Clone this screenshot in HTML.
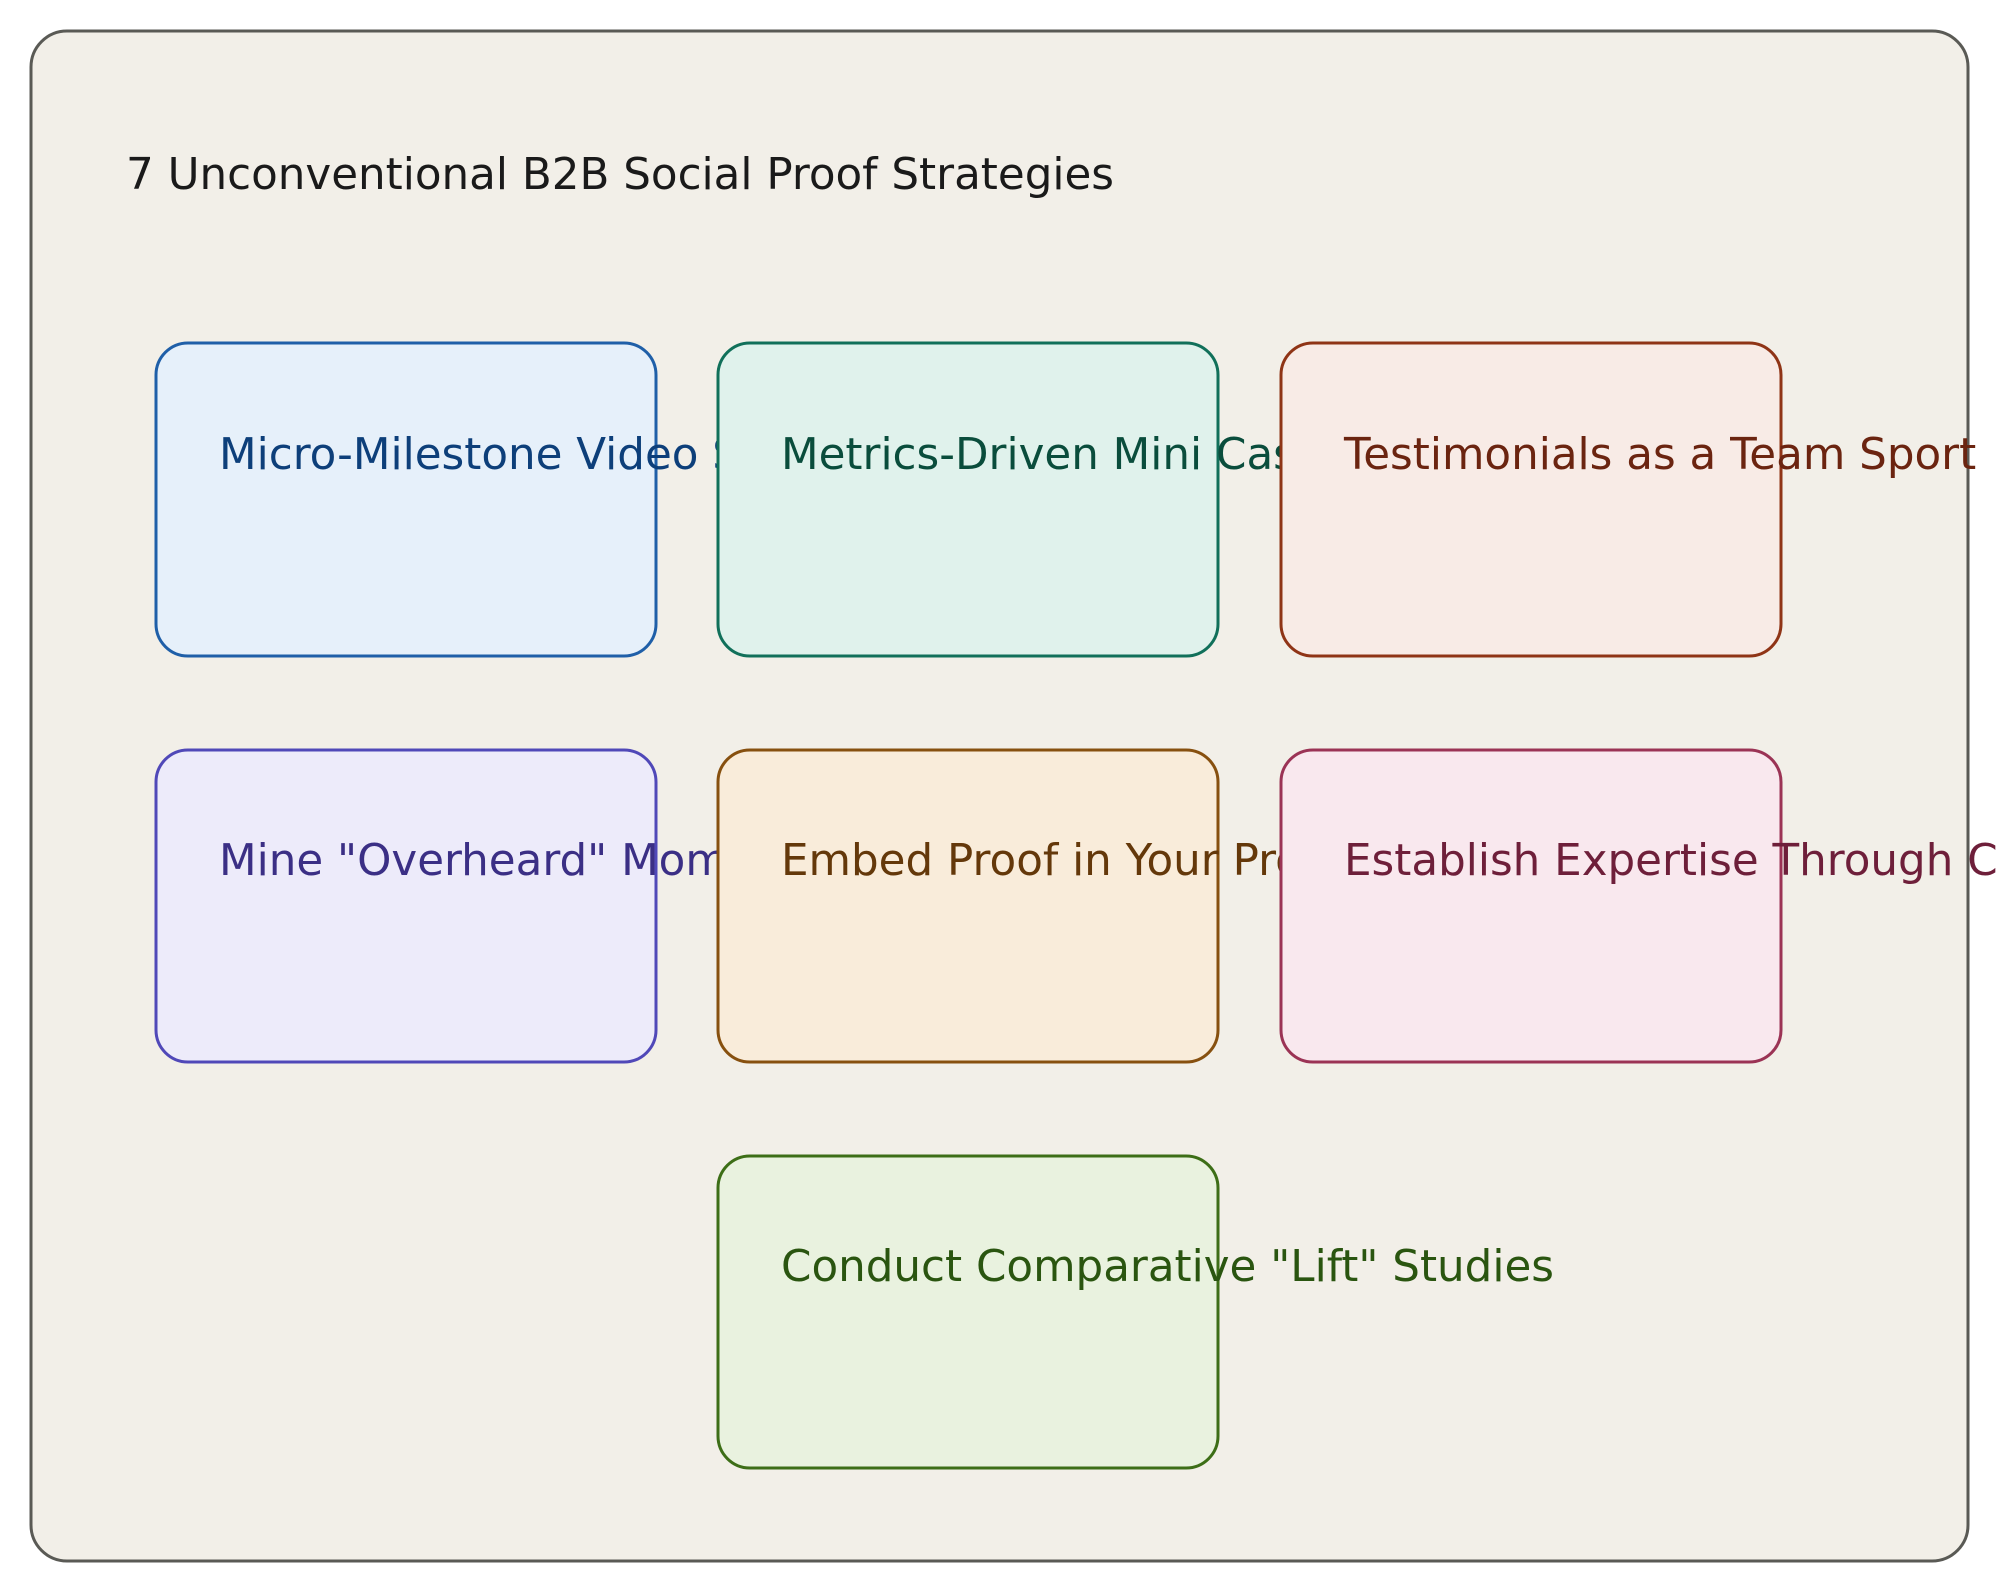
<!DOCTYPE html>
<html><head><meta charset="utf-8"><style>
html,body{margin:0;padding:0;background:#fff;}
svg{display:block;}
text{font-family:"DejaVu Sans","Liberation Sans",sans-serif;font-size:43.6px;}
</style></head><body>
<svg width="2000" height="1593" viewBox="0 0 2000 1593" xmlns="http://www.w3.org/2000/svg">
<rect x="31" y="31" width="1937" height="1530" rx="36" fill="#f2efe8" stroke="#5a5a55" stroke-width="3"/>
<text x="126" y="189" fill="#1a1a1a">7 Unconventional B2B Social Proof Strategies</text>

<rect x="156" y="343" width="500" height="313" rx="32" fill="#e6f0fa" stroke="#1f5fa8" stroke-width="3"/>
<text x="219" y="469" fill="#0d3f7a">Micro-Milestone Video Strategy</text>
<rect x="718" y="343" width="500" height="313" rx="32" fill="#e0f2ec" stroke="#11705a" stroke-width="3"/>
<text x="781" y="469" fill="#0a4d3c">Metrics-Driven Mini Case Studies</text>
<rect x="1281" y="343" width="500" height="313" rx="32" fill="#f8ebe6" stroke="#8f3416" stroke-width="3"/>
<text x="1344" y="469" fill="#6b2410">Testimonials as a Team Sport</text>

<rect x="156" y="750" width="500" height="312" rx="32" fill="#edebfa" stroke="#5048b8" stroke-width="3"/>
<text x="219" y="875" fill="#3b2f85">Mine "Overheard" Moments</text>
<rect x="718" y="750" width="500" height="312" rx="32" fill="#f9ecda" stroke="#87500f" stroke-width="3"/>
<text x="781" y="875" fill="#64380a">Embed Proof in Your Product</text>
<rect x="1281" y="750" width="500" height="312" rx="32" fill="#f9e8ee" stroke="#9b3355" stroke-width="3"/>
<text x="1344" y="875" fill="#6e1f3a">Establish Expertise Through Content</text>

<rect x="718" y="1156" width="500" height="312" rx="32" fill="#e9f2df" stroke="#3d6e17" stroke-width="3"/>
<text x="781" y="1281" fill="#2a5510">Conduct Comparative "Lift" Studies</text>
</svg>
</body></html>
